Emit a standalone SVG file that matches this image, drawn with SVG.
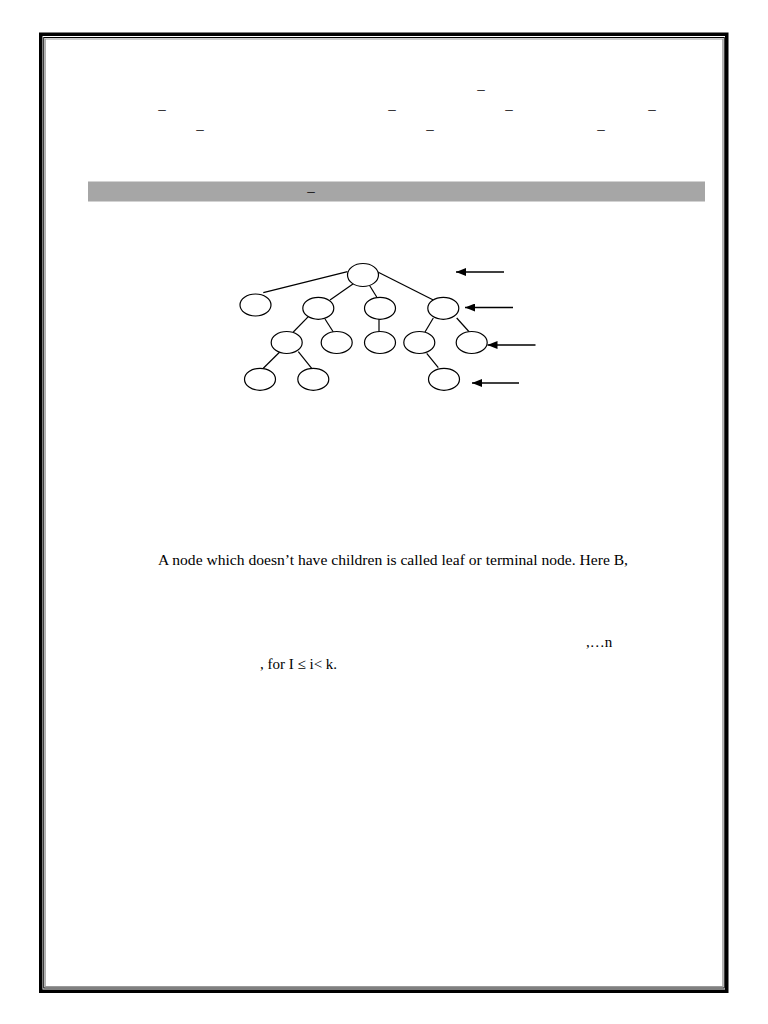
<svg xmlns="http://www.w3.org/2000/svg" width="768" height="1024" viewBox="0 0 768 1024">
<defs>
<style>
.t{font-family:"Liberation Serif","Times New Roman",serif;font-size:15px;fill:#000}
.d{font-family:"Liberation Serif","Times New Roman",serif;font-size:15px;fill:#000;text-anchor:middle}
.n{fill:#fff;stroke:#000;stroke-width:1.2}
.e{stroke:#000;stroke-width:1.2;fill:none}
.a{stroke:#000;stroke-width:1.4;fill:none}
</style>
<marker id="ah" markerWidth="10" markerHeight="8" refX="10" refY="4" orient="auto" markerUnits="userSpaceOnUse">
<path d="M0,0 L10,4 L0,8 Z" fill="#000"/>
</marker>
</defs>
<rect width="768" height="1024" fill="#fff"/>
<g id="border">
<rect x="40.75" y="34.25" width="686" height="957" fill="none" stroke="#000" stroke-width="3.5"/>
<rect x="43.75" y="37.5" width="680.5" height="950.5" fill="none" stroke="#000" stroke-width="1"/>
<rect x="45.25" y="39" width="677.5" height="947.5" fill="none" stroke="#999" stroke-width="1"/>
</g>
<g id="dashes">
<text class="d" x="481" y="94">–</text>
<text class="d" x="162" y="114">–</text>
<text class="d" x="392" y="114">–</text>
<text class="d" x="509" y="114">–</text>
<text class="d" x="652" y="114">–</text>
<text class="d" x="200" y="134">–</text>
<text class="d" x="430" y="134">–</text>
<text class="d" x="601" y="134">–</text>
</g>
<g id="band">
<rect x="88" y="181.5" width="617" height="20" fill="#a6a6a6"/>
<text class="d" x="311" y="196">–</text>
</g>
<g id="connectors">
<line class="e" x1="347.5" y1="271.7" x2="263.3" y2="292.7"/>
<line class="e" x1="354" y1="283.3" x2="330" y2="300"/>
<line class="e" x1="369.3" y1="285" x2="376.7" y2="297"/>
<line class="e" x1="377.3" y1="271.7" x2="433.3" y2="300"/>
<line class="e" x1="308.3" y1="316.7" x2="293.3" y2="332"/>
<line class="e" x1="325" y1="319" x2="333.3" y2="332"/>
<line class="e" x1="379" y1="319" x2="379" y2="332"/>
<line class="e" x1="433.3" y1="318" x2="425" y2="332"/>
<line class="e" x1="456.7" y1="318" x2="469.3" y2="332"/>
<line class="e" x1="280" y1="351.7" x2="263.3" y2="368.3"/>
<line class="e" x1="298.3" y1="351.7" x2="311.7" y2="368.3"/>
<line class="e" x1="426.7" y1="353.3" x2="438.3" y2="367.7"/>
</g>
<g id="node-root"><ellipse class="n" cx="363" cy="275" rx="15.5" ry="11.5"/></g>
<g id="node-1a"><ellipse class="n" cx="255.5" cy="305" rx="15.5" ry="11"/></g>
<g id="node-1b"><ellipse class="n" cx="318.3" cy="308.3" rx="15.5" ry="11"/></g>
<g id="node-1c"><ellipse class="n" cx="380" cy="308.3" rx="15.5" ry="11"/></g>
<g id="node-1d"><ellipse class="n" cx="443.3" cy="308.3" rx="15.5" ry="11"/></g>
<g id="node-2a"><ellipse class="n" cx="286.7" cy="342.5" rx="15.5" ry="11"/></g>
<g id="node-2b"><ellipse class="n" cx="336.7" cy="342.5" rx="15.5" ry="11"/></g>
<g id="node-2c"><ellipse class="n" cx="380" cy="342.5" rx="15.5" ry="11"/></g>
<g id="node-2d"><ellipse class="n" cx="419.3" cy="342.5" rx="15.5" ry="11"/></g>
<g id="node-2e"><ellipse class="n" cx="471.7" cy="342.5" rx="15.5" ry="11"/></g>
<g id="node-3a"><ellipse class="n" cx="260" cy="379.3" rx="15.5" ry="11"/></g>
<g id="node-3b"><ellipse class="n" cx="313.3" cy="379.3" rx="15.5" ry="11"/></g>
<g id="node-3c"><ellipse class="n" cx="444" cy="379.3" rx="15.5" ry="11"/></g>
<g id="arrows">
<line class="a" x1="504" y1="272" x2="456" y2="272" marker-end="url(#ah)"/>
<line class="a" x1="513" y1="307.5" x2="465" y2="307.5" marker-end="url(#ah)"/>
<line class="a" x1="535.5" y1="345" x2="487.5" y2="345" marker-end="url(#ah)"/>
<line class="a" x1="519" y1="383" x2="472" y2="383" marker-end="url(#ah)"/>
</g>
<g id="texts">
<text class="t" x="158" y="565" textLength="470" lengthAdjust="spacingAndGlyphs">A node which doesn’t have children is called leaf or terminal node. Here B,</text>
<text class="t" x="586" y="647">,…n</text>
<text class="t" x="260" y="669">, for I ≤ i&lt; k.</text>
</g>
</svg>
